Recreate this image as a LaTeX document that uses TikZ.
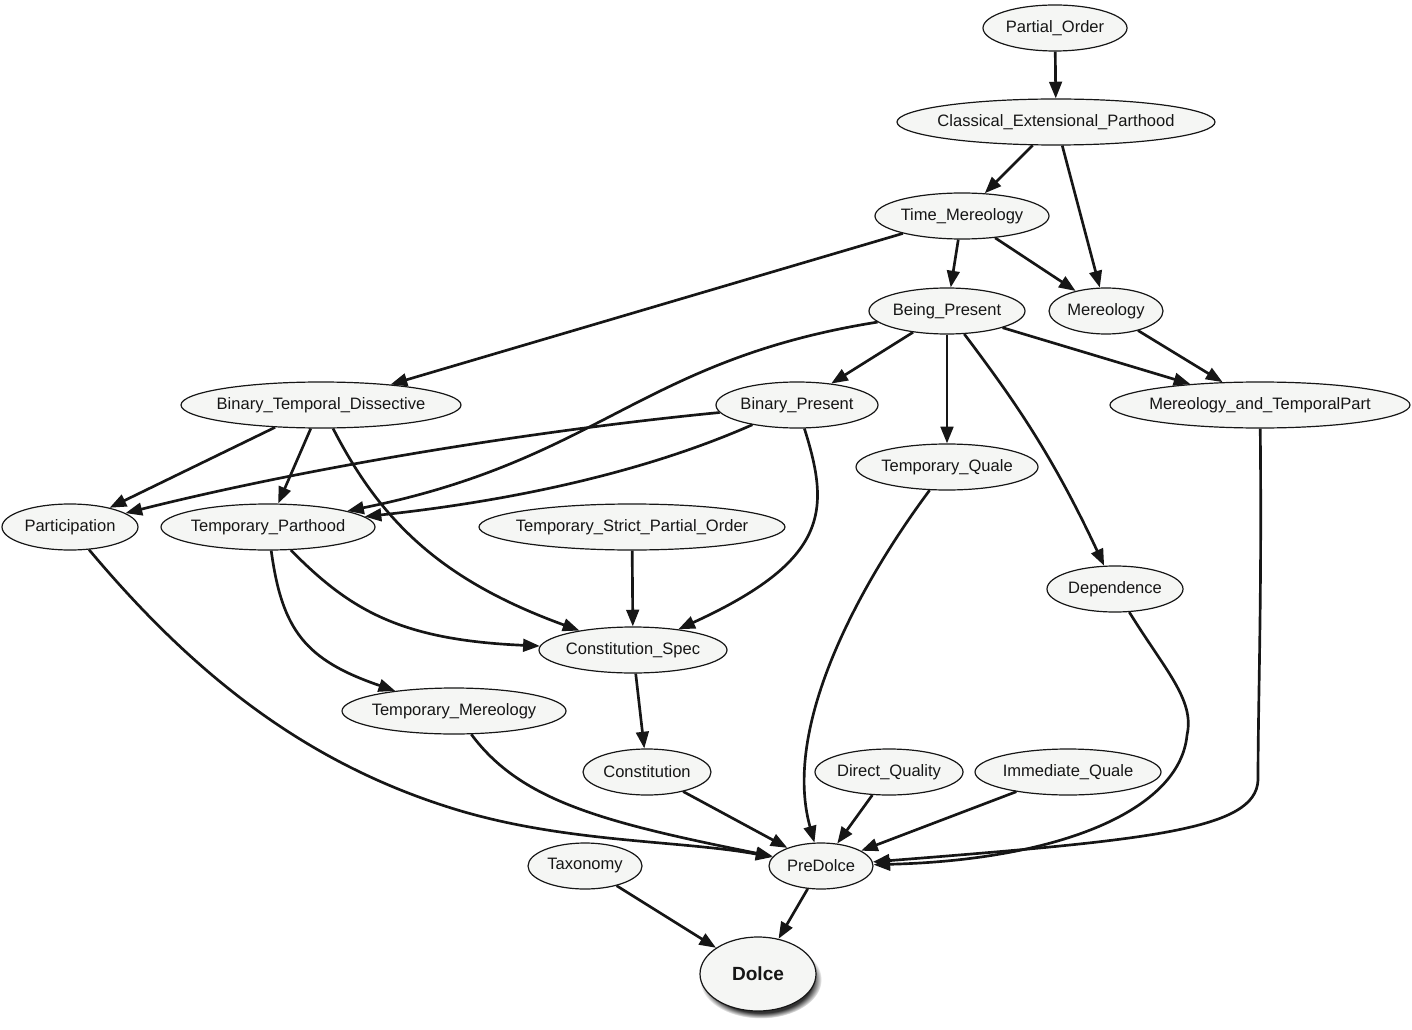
\documentclass[tikz,border=0pt]{standalone}
\usepackage{fontspec}
\setmainfont{Liberation Sans}
\usetikzlibrary{shapes.geometric,arrows.meta,shadows}
\definecolor{ndfill}{RGB}{245,246,244}
\definecolor{ink}{RGB}{22,22,22}
\newcommand\lbl[1]{\makebox[0pt]{#1}}
\begin{document}
\begin{tikzpicture}[x=0.75pt,y=-0.75pt,
  nd/.style={ellipse,draw=ink,line width=0.9pt,fill=ndfill,inner sep=0pt,
    minimum height=34.5pt,font=\fontsize{12.4}{14}\selectfont,text=ink},
  wd/.style={minimum width=#1*0.75pt},
  edge/.style={draw=ink,line width=2pt,-{Triangle[length=12.5pt,width=9.5pt]}}]
\useasboundingbox (0,0) rectangle (1412,1030);

\node[nd,wd=144] (po)   at (1055,28)  {\lbl{Partial\_Order}};
\node[nd,wd=318] (cep)  at (1056,122) {\lbl{Classical\_Extensional\_Parthood}};
\node[nd,wd=174] (tm)   at (962,216)  {\lbl{Time\_Mereology}};
\node[nd,wd=156] (bp)   at (947,311)  {\lbl{Being\_Present}};
\node[nd,wd=114] (mer)  at (1106,311) {\lbl{Mereology}};
\node[nd,wd=280] (btd)  at (321,405)  {\lbl{Binary\_Temporal\_Dissective}};
\node[nd,wd=162] (binp) at (797,405)  {\lbl{Binary\_Present}};
\node[nd,wd=300] (mtp)  at (1260,405) {\lbl{Mereology\_and\_TemporalPart}};
\node[nd,wd=182] (tq)   at (947,467)  {\lbl{Temporary\_Quale}};
\node[nd,wd=136] (par)  at (70,527)   {\lbl{Participation}};
\node[nd,wd=214] (tp)   at (268,527)  {\lbl{Temporary\_Parthood}};
\node[nd,wd=306] (tspo) at (632,527)  {\lbl{Temporary\_Strict\_Partial\_Order}};
\node[nd,wd=136] (dep)  at (1115,589) {\lbl{Dependence}};
\node[nd,wd=188] (cs)   at (633,650)  {\lbl{Constitution\_Spec}};
\node[nd,wd=224] (tmer) at (454,711)  {\lbl{Temporary\_Mereology}};
\node[nd,wd=128] (con)  at (647,772)  {\lbl{Constitution}};
\node[nd,wd=148] (dq)   at (889,772)  {\lbl{Direct\_Quality}};
\node[nd,wd=186] (iq)   at (1068,772) {\lbl{Immediate\_Quale}};
\node[nd,wd=114] (tax)  at (585,866)  {\lbl{Taxonomy}};
\node[nd,wd=104] (pd)   at (821,866)  {\lbl{PreDolce}};
\node[nd,wd=116,minimum height=55.5pt,font=\fontsize{14.3}{16}\selectfont\bfseries,
  circular drop shadow={shadow xshift=2pt,shadow yshift=-4pt,shadow scale=1.05,fill=black,opacity=0.8}]
  (dolce) at (758,974) {\lbl{Dolce}};

% straight edges
\draw[edge] (po) -- (cep);
\draw[edge] (cep) -- (tm);
\draw[edge] (cep) -- (mer);
\draw[edge] (tm) -- (bp);
\draw[edge] (tm) -- (mer);
\draw[edge] (tm) -- (btd);
\draw[edge] (bp) -- (binp);
\draw[edge] (bp) -- (tq);
\draw[edge] (bp) -- (mtp);
\draw[edge] (mer) -- (mtp);
\draw[edge] (btd) -- (par);
\draw[edge] (btd) -- (tp);
\draw[edge] (tspo) -- (cs);
\draw[edge] (cs) -- (con);
\draw[edge] (con) -- (pd);
\draw[edge] (dq) -- (pd);
\draw[edge] (iq) -- (pd);
\draw[edge] (tax) -- (dolce);
\draw[edge] (pd) -- (dolce);

% curved edges
\draw[edge] (bp) .. controls (1010,395) and (1050,450) .. (dep);
\draw[edge] (bp) .. controls (640,360) and (600,460) .. (tp);
\draw[edge] (binp) .. controls (560,428) and (330,462) .. (par);
\draw[edge] (binp) .. controls (650,470) and (520,500) .. (tp);
\draw[edge] (binp) .. controls (830,510) and (830,560) .. (cs);
\draw[edge] (btd) .. controls (380,520) and (440,580) .. (cs);
\draw[edge] (tp) .. controls (350,610) and (400,640) .. (cs);
\draw[edge] (tp) .. controls (282,630) and (305,660) .. (tmer);
\draw[edge] (par) .. controls (190,670) and (300,760) .. (448,807)
                  .. controls (560,843) and (680,840) .. (pd);
\draw[edge] (tmer) .. controls (520,800) and (600,822) .. (pd);
\draw[edge] (tq) .. controls (870,570) and (780,720) .. (pd);
\draw[edge] (dep) .. controls (1165,670) and (1195,700) .. (1187,735)
                  .. controls (1180,810) and (1060,860) .. (pd);
\draw[edge] (mtp) .. controls (1262,600) and (1258,700) .. (1258,780)
                  .. controls (1256,830) and (1150,840) .. (pd);
\end{tikzpicture}
\end{document}
